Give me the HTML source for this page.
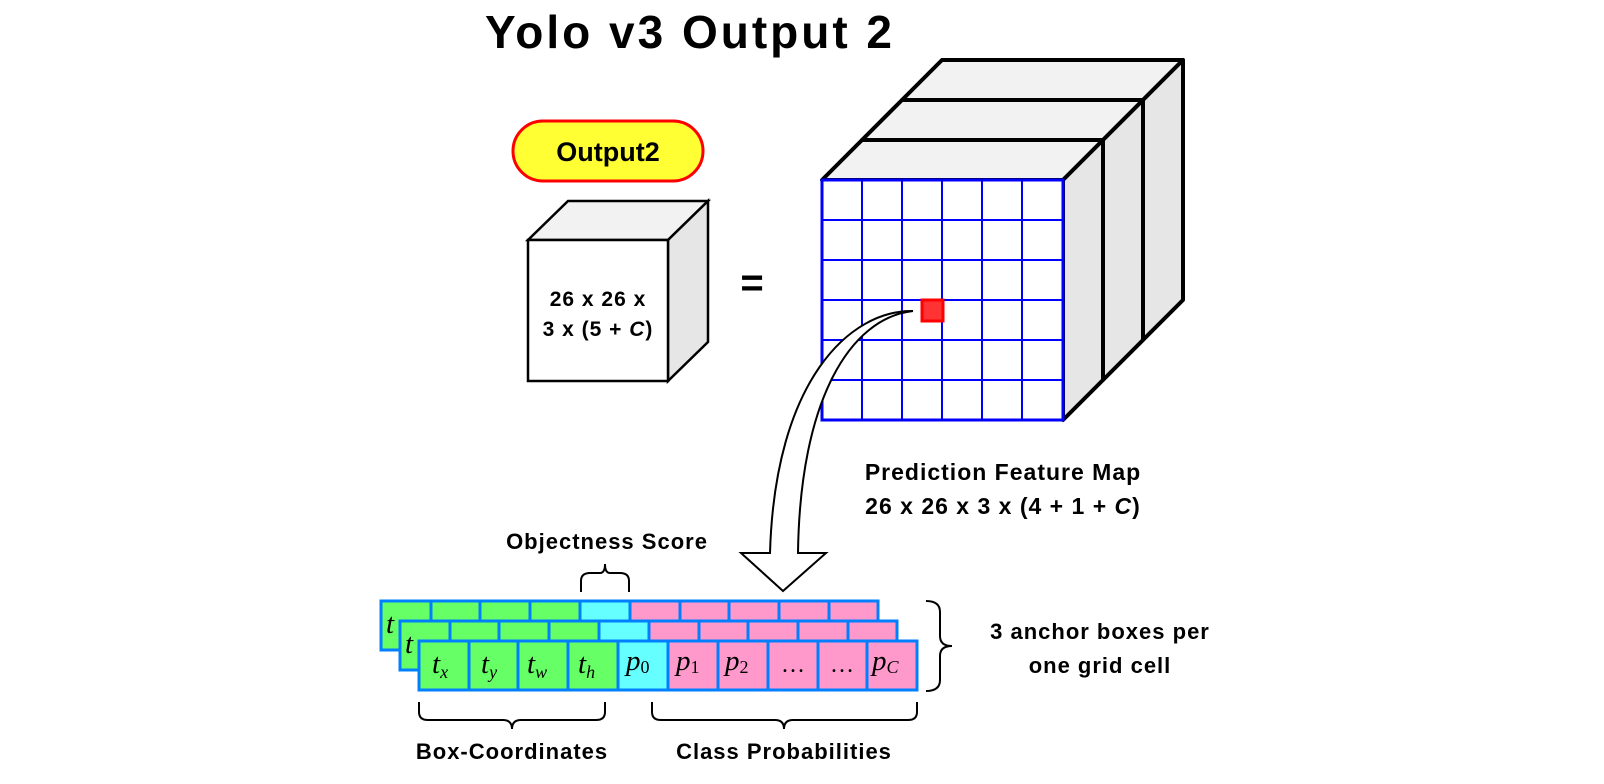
<!DOCTYPE html>
<html><head><meta charset="utf-8"><style>
html,body{margin:0;padding:0;background:#fff;}
svg{display:block;}
.b{font-family:"Liberation Sans",sans-serif;font-weight:bold;fill:#000;}
.m{font-family:"Liberation Serif",serif;font-style:italic;fill:#000;}
</style></head><body>
<svg width="1604" height="784" viewBox="0 0 1604 784" xmlns="http://www.w3.org/2000/svg">
<text class="b" x="690" y="48" font-size="46" text-anchor="middle" letter-spacing="3">Yolo v3 Output 2</text>
<rect x="513" y="121" width="190" height="60" rx="30" fill="#ffff33" stroke="#ff0000" stroke-width="3"/>
<text class="b" x="608" y="161" font-size="27" text-anchor="middle">Output2</text>
<!-- small cube -->
<polygon points="528,240 568,201 708,201 668,240" fill="#f2f2f2" stroke="#000" stroke-width="2.5"/>
<polygon points="668,240 708,201 708,342 668,381" fill="#e6e6e6" stroke="#000" stroke-width="2.5"/>
<rect x="528" y="240" width="140" height="141" fill="#fff" stroke="#000" stroke-width="2.5"/>
<text class="b" x="598" y="306" font-size="21" text-anchor="middle" letter-spacing="1">26 x 26 x</text>
<text class="b" x="598" y="336" font-size="21" text-anchor="middle" letter-spacing="1">3 x (5 + <tspan font-style="italic">C</tspan>)</text>
<text class="b" x="752" y="296" font-size="40" text-anchor="middle">=</text>
<!-- big cube -->
<g stroke="#000" stroke-width="4" stroke-linejoin="round">
<polygon points="902,100 942,60 1183,60 1143,100" fill="#f2f2f2"/>
<polygon points="1143,100 1183,60 1183,300 1143,340" fill="#e6e6e6"/>
<polygon points="862,140 902,100 1143,100 1103,140" fill="#f2f2f2"/>
<polygon points="1103,140 1143,100 1143,340 1103,380" fill="#e6e6e6"/>
<polygon points="822,180 862,140 1103,140 1063,180" fill="#f2f2f2"/>
<polygon points="1063,180 1103,140 1103,380 1063,420" fill="#e6e6e6"/>
</g>
<rect x="822" y="180" width="241" height="240" fill="#fff"/>
<g stroke="#0000ff" stroke-width="2">
<line x1="862" y1="180" x2="862" y2="420"/><line x1="902" y1="180" x2="902" y2="420"/><line x1="942" y1="180" x2="942" y2="420"/><line x1="982" y1="180" x2="982" y2="420"/><line x1="1022" y1="180" x2="1022" y2="420"/>
<line x1="822" y1="220" x2="1063" y2="220"/><line x1="822" y1="260" x2="1063" y2="260"/><line x1="822" y1="300" x2="1063" y2="300"/><line x1="822" y1="340" x2="1063" y2="340"/><line x1="822" y1="380" x2="1063" y2="380"/>
</g>
<rect x="822" y="180" width="241" height="240" fill="none" stroke="#0000ff" stroke-width="3"/>
<rect x="922" y="300" width="21" height="21" fill="#ff3333" stroke="#ff0000" stroke-width="3"/>
<!-- curved arrow -->
<path d="M913,311 C850,310 775,380 770,553 L741,553 L783,591 L826,553 L798,553 C800,400 850,318 913,311 Z" fill="#fff" stroke="#000" stroke-width="2"/>
<text class="b" x="1003" y="480" font-size="23" text-anchor="middle" letter-spacing="1">Prediction Feature Map</text>
<text class="b" x="1003" y="514" font-size="23" text-anchor="middle" letter-spacing="1">26 x 26 x 3 x (4 + 1 + <tspan font-style="italic">C</tspan>)</text>
<text class="b" x="607" y="549" font-size="22" text-anchor="middle" letter-spacing="1">Objectness Score</text>
<path d="M581,592 L581,581 Q581,573 590,573 L600,573 Q605,573 605,564 Q605,573 610,573 L620,573 Q629,573 629,581 L629,592" fill="none" stroke="#000" stroke-width="2"/>
<!-- rows -->
<g stroke="#0080ff" stroke-width="3">
<rect x="381" y="601" width="199" height="49" fill="#66ff66"/>
<rect x="580" y="601" width="50" height="49" fill="#66ffff"/>
<rect x="630" y="601" width="248" height="49" fill="#ff99cc"/>
<path d="M431,601v49M480,601v49M530,601v49M680,601v49M729,601v49M779,601v49M829,601v49" fill="none"/>
<rect x="400" y="621" width="199" height="49" fill="#66ff66"/>
<rect x="599" y="621" width="50" height="49" fill="#66ffff"/>
<rect x="649" y="621" width="248" height="49" fill="#ff99cc"/>
<path d="M450,621v49M499,621v49M549,621v49M699,621v49M748,621v49M798,621v49M848,621v49" fill="none"/>
</g>
<text class="m" x="386" y="633" font-size="29">t</text>
<text class="m" x="405" y="653" font-size="29">t</text>
<g stroke="#0080ff" stroke-width="3">
<rect x="419" y="641" width="199" height="49" fill="#66ff66"/>
<rect x="618" y="641" width="50" height="49" fill="#66ffff"/>
<rect x="668" y="641" width="249" height="49" fill="#ff99cc"/>
<path d="M469,641v49M518,641v49M568,641v49M718,641v49M768,641v49M818,641v49M867,641v49" fill="none"/>
</g>
<g class="m" font-size="29">
<text x="432" y="673">t<tspan font-size="18" dy="5">x</tspan></text>
<text x="481" y="673">t<tspan font-size="18" dy="5">y</tspan></text>
<text x="527" y="673">t<tspan font-size="18" dy="5">w</tspan></text>
<text x="578" y="673">t<tspan font-size="18" dy="5">h</tspan></text>
<text x="626" y="670">p<tspan font-size="18" dy="3" font-style="normal">0</tspan></text>
<text x="676" y="670">p<tspan font-size="18" dy="3" font-style="normal">1</tspan></text>
<text x="725" y="670">p<tspan font-size="18" dy="3" font-style="normal">2</tspan></text>
<text x="781" y="672" font-style="normal" font-size="24">…</text>
<text x="830" y="672" font-style="normal" font-size="24">…</text>
<text x="872" y="670">p<tspan font-size="18" dy="3">C</tspan></text>
</g>
<!-- bottom braces -->
<path d="M419,702 L419,712 Q419,720 428,720 L503,720 Q512,720 512,729 Q512,720 521,720 L596,720 Q605,720 605,712 L605,702" fill="none" stroke="#000" stroke-width="2"/>
<path d="M652,702 L652,712 Q652,720 661,720 L775,720 Q784,720 784,729 Q784,720 793,720 L908,720 Q917,720 917,712 L917,702" fill="none" stroke="#000" stroke-width="2"/>
<path d="M926,601 Q940,601 940,612 L940,636 Q940,646 952,646 Q940,646 940,656 L940,680 Q940,691 926,691" fill="none" stroke="#000" stroke-width="2"/>
<text class="b" x="512" y="759" font-size="22" text-anchor="middle" letter-spacing="1">Box-Coordinates</text>
<text class="b" x="784" y="759" font-size="22" text-anchor="middle" letter-spacing="1">Class Probabilities</text>
<text class="b" x="1100" y="639" font-size="22" text-anchor="middle" letter-spacing="1">3 anchor boxes per</text>
<text class="b" x="1100" y="673" font-size="22" text-anchor="middle" letter-spacing="1">one grid cell</text>
</svg>
</body></html>
